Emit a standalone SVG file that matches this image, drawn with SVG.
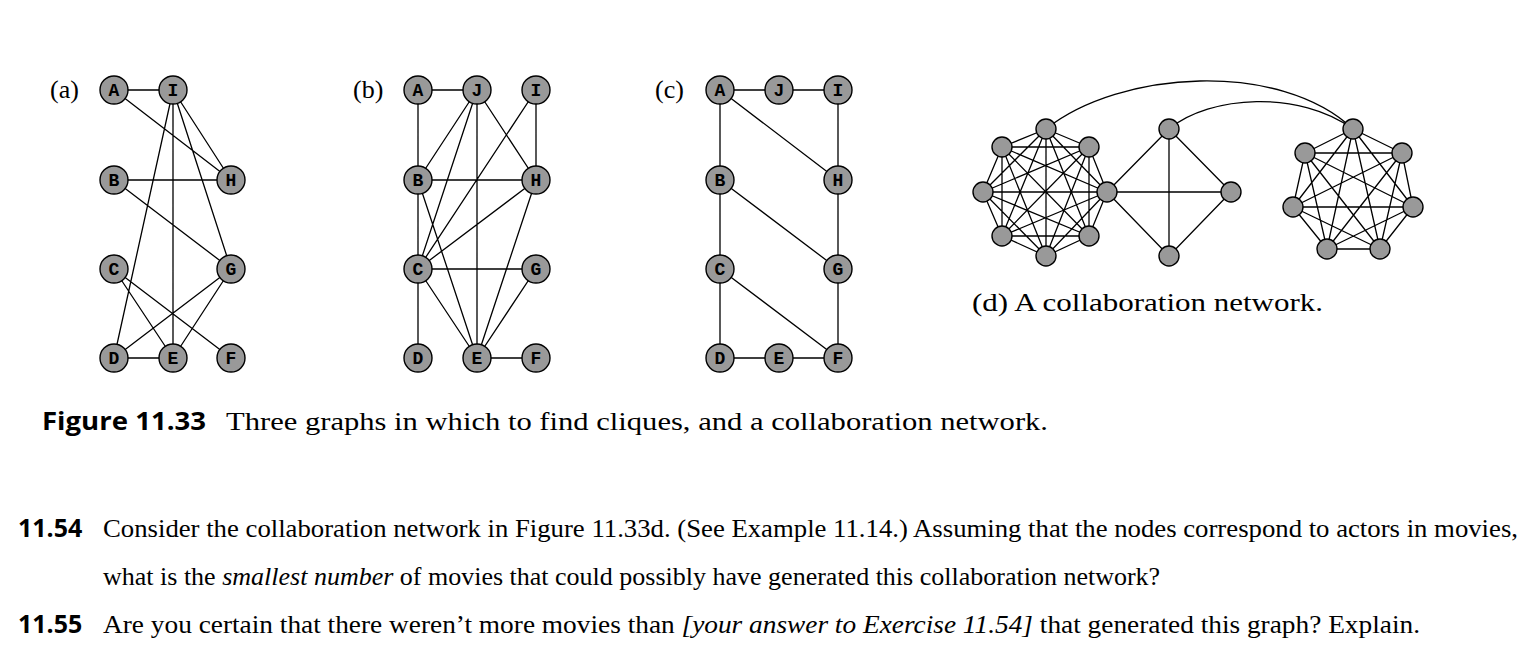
<svg xmlns="http://www.w3.org/2000/svg" width="1536" height="656" viewBox="0 0 1536 656">
<style>
.e{stroke:#000;stroke-width:1.3;fill:none}
.n circle{fill:#999;stroke:#000;stroke-width:1.4}
.n text{font-family:"Liberation Mono","DejaVu Sans Mono",monospace;font-weight:bold;font-size:18px;text-anchor:middle;dominant-baseline:central}
.s{font-family:"Liberation Serif","DejaVu Serif",serif;font-size:26px}
.i{font-family:"Liberation Serif","DejaVu Serif",serif;font-style:italic}
.b{font-family:"Open Sans","Liberation Sans",sans-serif;font-weight:bold;font-size:25px}
.m circle{fill:#999;stroke:#000;stroke-width:1.4}
</style>
<rect width="1536" height="656" fill="#fff"/>
<g id="connectors">
<path class="e" d="M114 90L173 90M114 90L231 180M173 90L231 180M173 90L231 269M173 90L173 358M173 90L114 358M114 180L231 180M114 180L231 269M114 269L173 358M114 269L231 358M114 358L231 269M173 358L231 269M114 358L173 358"/>
<path class="e" d="M418 90L477 90M418 90L418 180M477 90L418 180M477 90L418 269M477 90L477 358M477 90L536 180M536 90L418 269M536 90L536 180M418 180L536 180M418 180L418 269M418 180L477 358M418 269L536 180M418 269L536 269M418 269L477 358M418 269L418 358M536 180L477 358M536 269L477 358M477 358L536 358"/>
<path class="e" d="M720 90L779 90M779 90L838 90M720 90L838 180M838 90L838 180M720 90L720 180M720 180L720 269M720 180L838 269M838 180L838 269M838 269L838 358M720 269L720 358M720 269L838 358M720 358L779 358M779 358L838 358"/>
<path class="e" d="M1046 129L1089 147M1046 129L1107 192M1046 129L1089 236M1046 129L1046 256M1046 129L1002 236M1046 129L983 192M1046 129L1002 147M1089 147L1107 192M1089 147L1089 236M1089 147L1046 256M1089 147L1002 236M1089 147L983 192M1089 147L1002 147M1107 192L1089 236M1107 192L1046 256M1107 192L1002 236M1107 192L983 192M1107 192L1002 147M1089 236L1046 256M1089 236L1002 236M1089 236L983 192M1089 236L1002 147M1046 256L1002 236M1046 256L983 192M1046 256L1002 147M1002 236L983 192M1002 236L1002 147M983 192L1002 147"/>
<path class="e" d="M1353 129L1402 153M1353 129L1413 207M1353 129L1380 249M1353 129L1327 249M1353 129L1293 207M1353 129L1305 153M1402 153L1413 207M1402 153L1380 249M1402 153L1327 249M1402 153L1293 207M1402 153L1305 153M1413 207L1380 249M1413 207L1327 249M1413 207L1293 207M1413 207L1305 153M1380 249L1327 249M1380 249L1293 207M1380 249L1305 153M1327 249L1293 207M1327 249L1305 153M1293 207L1305 153"/>
<path class="e" d="M1107 192L1169 129M1107 192L1231 192M1107 192L1169 256M1169 129L1169 256M1169 129L1231 192M1169 256L1231 192"/>
<path class="e" d="M1046 129C1120 70 1280 60 1353 129M1169 129C1210 95 1300 90 1353 129"/>
</g>
<g class="n">
<g id="a-A"><circle cx="114" cy="90" r="14"/><text x="114" y="91">A</text></g>
<g id="a-I"><circle cx="173" cy="90" r="14"/><text x="173" y="91">I</text></g>
<g id="a-B"><circle cx="114" cy="180" r="14"/><text x="114" y="181">B</text></g>
<g id="a-H"><circle cx="231" cy="180" r="14"/><text x="231" y="181">H</text></g>
<g id="a-C"><circle cx="114" cy="269" r="14"/><text x="114" y="270">C</text></g>
<g id="a-G"><circle cx="231" cy="269" r="14"/><text x="231" y="270">G</text></g>
<g id="a-D"><circle cx="114" cy="358" r="14"/><text x="114" y="359">D</text></g>
<g id="a-E"><circle cx="173" cy="358" r="14"/><text x="173" y="359">E</text></g>
<g id="a-F"><circle cx="231" cy="358" r="14"/><text x="231" y="359">F</text></g>
<g id="b-A"><circle cx="418" cy="90" r="14"/><text x="418" y="91">A</text></g>
<g id="b-J"><circle cx="477" cy="90" r="14"/><text x="477" y="91">J</text></g>
<g id="b-I"><circle cx="536" cy="90" r="14"/><text x="536" y="91">I</text></g>
<g id="b-B"><circle cx="418" cy="180" r="14"/><text x="418" y="181">B</text></g>
<g id="b-H"><circle cx="536" cy="180" r="14"/><text x="536" y="181">H</text></g>
<g id="b-C"><circle cx="418" cy="269" r="14"/><text x="418" y="270">C</text></g>
<g id="b-G"><circle cx="536" cy="269" r="14"/><text x="536" y="270">G</text></g>
<g id="b-D"><circle cx="418" cy="358" r="14"/><text x="418" y="359">D</text></g>
<g id="b-E"><circle cx="477" cy="358" r="14"/><text x="477" y="359">E</text></g>
<g id="b-F"><circle cx="536" cy="358" r="14"/><text x="536" y="359">F</text></g>
<g id="c-A"><circle cx="720" cy="90" r="14"/><text x="720" y="91">A</text></g>
<g id="c-J"><circle cx="779" cy="90" r="14"/><text x="779" y="91">J</text></g>
<g id="c-I"><circle cx="838" cy="90" r="14"/><text x="838" y="91">I</text></g>
<g id="c-B"><circle cx="720" cy="180" r="14"/><text x="720" y="181">B</text></g>
<g id="c-H"><circle cx="838" cy="180" r="14"/><text x="838" y="181">H</text></g>
<g id="c-C"><circle cx="720" cy="269" r="14"/><text x="720" y="270">C</text></g>
<g id="c-G"><circle cx="838" cy="269" r="14"/><text x="838" y="270">G</text></g>
<g id="c-D"><circle cx="720" cy="358" r="14"/><text x="720" y="359">D</text></g>
<g id="c-E"><circle cx="779" cy="358" r="14"/><text x="779" y="359">E</text></g>
<g id="c-F"><circle cx="838" cy="358" r="14"/><text x="838" y="359">F</text></g>
</g>
<g class="m">
<g id="o0"><circle cx="1046" cy="129" r="10"/></g>
<g id="o1"><circle cx="1089" cy="147" r="10"/></g>
<g id="o2"><circle cx="1107" cy="192" r="10"/></g>
<g id="o3"><circle cx="1089" cy="236" r="10"/></g>
<g id="o4"><circle cx="1046" cy="256" r="10"/></g>
<g id="o5"><circle cx="1002" cy="236" r="10"/></g>
<g id="o6"><circle cx="983" cy="192" r="10"/></g>
<g id="o7"><circle cx="1002" cy="147" r="10"/></g>
<g id="d0"><circle cx="1169" cy="129" r="10"/></g>
<g id="d1"><circle cx="1231" cy="192" r="10"/></g>
<g id="d2"><circle cx="1169" cy="256" r="10"/></g>
<g id="p0"><circle cx="1353" cy="129" r="10"/></g>
<g id="p1"><circle cx="1402" cy="153" r="10"/></g>
<g id="p2"><circle cx="1413" cy="207" r="10"/></g>
<g id="p3"><circle cx="1380" cy="249" r="10"/></g>
<g id="p4"><circle cx="1327" cy="249" r="10"/></g>
<g id="p5"><circle cx="1293" cy="207" r="10"/></g>
<g id="p6"><circle cx="1305" cy="153" r="10"/></g>
</g>
<text class="s" x="50" y="98" font-size="22">(a)</text>
<text class="s" x="353" y="98" font-size="22">(b)</text>
<text class="s" x="655" y="98" font-size="22">(c)</text>
<text class="s" x="972" y="311" textLength="351" lengthAdjust="spacingAndGlyphs">(d) A collaboration network.</text>
<text class="b" x="42" y="430" textLength="164" lengthAdjust="spacingAndGlyphs">Figure 11.33</text>
<text class="s" x="226" y="430" textLength="822" lengthAdjust="spacingAndGlyphs">Three graphs in which to find cliques, and a collaboration network.</text>
<text class="b" x="18" y="537" font-size="23">11.54</text>
<text class="s" x="103" y="537" font-size="24" textLength="1415" lengthAdjust="spacingAndGlyphs">Consider the collaboration network in Figure 11.33d. (See Example 11.14.) Assuming that the nodes correspond to actors in movies,</text>
<text class="s" x="103" y="585" font-size="24">what is the <tspan class="i">smallest number</tspan> of movies that could possibly have generated this collaboration network?</text>
<text class="b" x="18" y="633" font-size="23">11.55</text>
<text class="s" x="103" y="633" font-size="24" textLength="1317" lengthAdjust="spacingAndGlyphs">Are you certain that there weren’t more movies than <tspan class="i">[your answer to Exercise 11.54]</tspan> that generated this graph? Explain.</text>
</svg>
